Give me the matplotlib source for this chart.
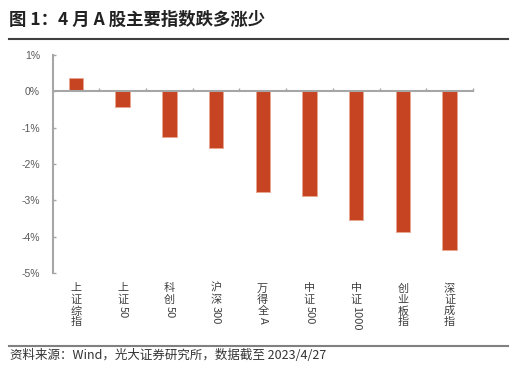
import matplotlib
matplotlib.use("Agg")
import matplotlib.pyplot as plt
from matplotlib.lines import Line2D
from matplotlib.ticker import FuncFormatter

plt.rcParams["font.family"] = ["Noto Sans CJK SC", "DejaVu Sans"]

# data
categories = ["上证综指", "上证50", "科创50", "沪深300", "万得全A",
              "中证500", "中证1000", "创业板指", "深证成指"]
changes = [0.38, -0.43, -1.27, -1.56, -2.77, -2.89, -3.55, -3.87, -4.38]
yticks = [1, 0, -1, -2, -3, -4, -5]

title = "图 1：4 月 A 股主要指数跌多涨少"
source = "资料来源：Wind，光大证券研究所，数据截至 2023/4/27"

BAR = "#C64422"
AXIS = "#A6A6A6"
LABEL = "#404040"

fig = plt.figure(figsize=(5.22, 3.66), dpi=100)
ax = fig.add_axes([0.1006, 0.2541, 0.8055, 0.5956])

x = list(range(len(categories)))
ax.bar(x, changes, width=0.31, color=BAR, edgecolor="#E9A58F", linewidth=0.6, zorder=3)

ax.set_xlim(-0.5, len(categories) - 0.5)
ax.set_ylim(-5, 1)
ax.set_yticks(yticks)
ax.yaxis.set_major_formatter(FuncFormatter(lambda v, p: f"{v:.0f}%"))
ax.tick_params(axis="y", direction="in", length=2.5, width=1, color=AXIS,
               labelsize=7.5, labelcolor="#595959", pad=9)
for t in ax.get_yticklabels():
    t.set_fontfamily(["Liberation Sans", "DejaVu Sans"])

ax.spines["bottom"].set_position(("data", 0))
ax.set_xticks([i + 0.5 for i in x])
ax.tick_params(axis="x", direction="in", length=2.5, width=1, color=AXIS,
               labelbottom=False)
for s in ["top", "right"]:
    ax.spines[s].set_visible(False)
for s in ["left", "bottom"]:
    ax.spines[s].set_color(AXIS)
    ax.spines[s].set_linewidth(1.5)
ax.spines["bottom"].set_zorder(4)

# vertical category labels: CJK upright, latin runs rotated
renderer = fig.canvas.get_renderer()
fs = 8
for i, name in enumerate(categories):
    segs = []
    for ch in name:
        if ord(ch) < 128 and segs and segs[-1][1]:
            segs[-1][0] += ch
        else:
            segs.append([ch, ord(ch) < 128])
    off = -7.5
    for text, latin in segs:
        ax.annotate(text, xy=(i, 0), xycoords=("data", "axes fraction"),
                    xytext=(0, off), textcoords="offset points",
                    ha="center", va="top", fontsize=fs, color=LABEL,
                    rotation=-90 if latin else 0, annotation_clip=False)
        if latin:
            probe = fig.text(0, 0, text, fontsize=fs)
            w = probe.get_window_extent(renderer).width * 72 / fig.dpi
            probe.remove()
            off -= w + 1
        else:
            off -= fs * 1.02

fig.text(0.017, 0.945, title, fontsize=12.5, fontweight="bold", color="#222222",
         va="center", ha="left")
fig.add_artist(Line2D([0.017, 0.973], [0.893, 0.893], transform=fig.transFigure,
                      color="#404040", linewidth=1.5))
fig.add_artist(Line2D([0.017, 0.973], [0.055, 0.055], transform=fig.transFigure,
                      color="#808080", linewidth=1.5))
fig.text(0.019, 0.028, source, fontsize=9, color="#333333", va="center", ha="left")

fig.savefig("out.png", dpi=100)
